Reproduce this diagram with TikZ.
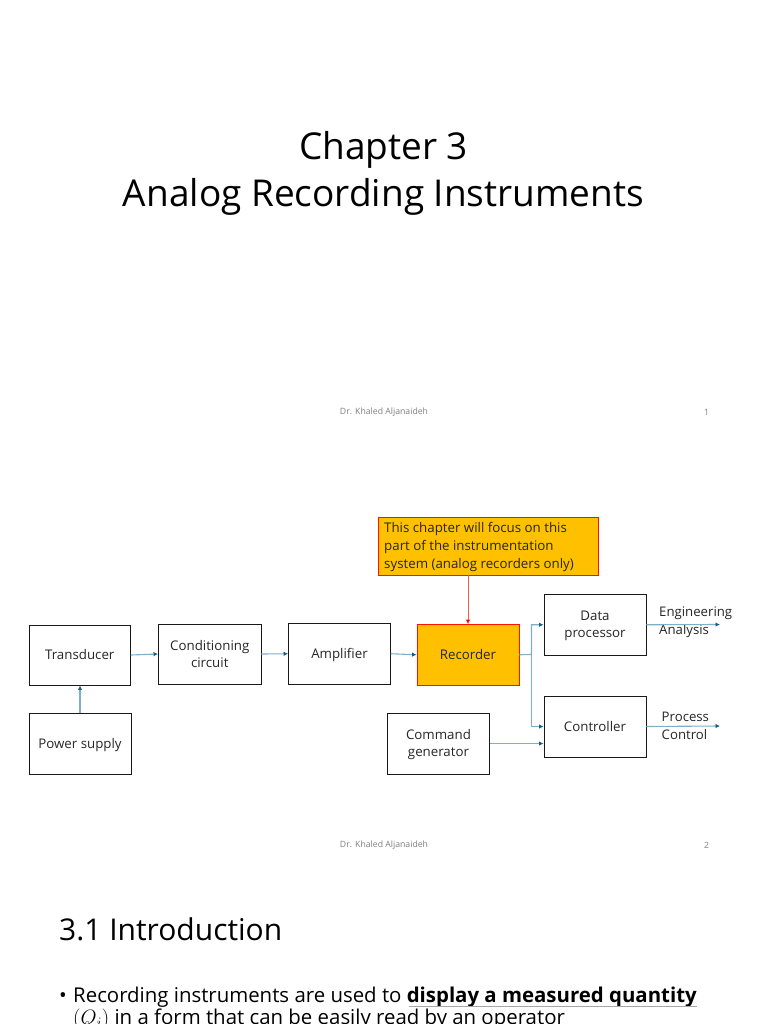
\documentclass[tikz,border=0pt]{standalone}
\usepackage{fontspec}
\setmainfont{Open Sans}
\usetikzlibrary{arrows.meta}
\tikzset{
  blockbox/.style={draw=black!90,line width=0.9pt,fill=white,align=center,font=\fontsize{13.3}{17.3}\selectfont,text=black!85,inner sep=0pt},
  hotbox/.style={blockbox,draw=red!85!orange,fill=amber,text=black!85},
  flow/.style={draw=flowblue,line width=1.1pt,-{Latex[length=4.5pt,width=4.5pt,color=arrowblue]}},
  redflow/.style={draw=red!65,line width=0.9pt,-{Latex[length=4.5pt,width=4.5pt,color=red]}},
  footer/.style={font=\fontsize{8.7}{11}\selectfont,text=black!50,inner sep=0pt},
  lbl/.style={font=\fontsize{13.2}{17.8}\selectfont,text=black!85,align=left,inner sep=0pt,anchor=west},
  titletext/.style={font=\fontsize{37}{47}\selectfont,align=center,inner sep=0pt,text=black},
  bodytext/.style={font=\fontsize{20.4}{22}\selectfont,inner sep=0pt,anchor=base west,text=black},
}
\definecolor{amber}{HTML}{FFC000}
\definecolor{flowblue}{HTML}{7FAFC8}
\definecolor{arrowblue}{HTML}{156082}
\newcommand{\bx}[6]{\node[#1,minimum width=#5pt-#3pt,minimum height=#6pt-#4pt] (#2) at ({(#3+#5)/2},{(#4+#6)/2})}
\newcommand{\capfix}{\rule{0pt}{13pt}}
\begin{document}
\begin{tikzpicture}[x=1pt,y=-1pt]
\clip (0,0) rectangle (768,1024);
\useasboundingbox (0,0) rectangle (768,1024);
\fill[white] (0,0) rectangle (768,1024);
\node[titletext] (title) at (383.5,173.5) {Chapter 3\\Analog Recording Instruments};
\node[footer] (f1) at (384,412.5) {Dr. Khaled Aljanaideh};
\node[footer] (n1) at (706.5,412.5) {1};
\node[footer] (f2) at (384,845.5) {Dr. Khaled Aljanaideh};
\node[footer] (n2) at (706.5,845.5) {2};

\bx{hotbox}{note}{378.5}{517.5}{598}{575}{};
\node[font=\fontsize{13.3}{17.6}\selectfont,text=black!85,align=left,inner sep=0pt,anchor=west] (notetext) at (384,547) {This chapter will focus on this\\part of the instrumentation\\system (analog recorders only)};
\bx{blockbox}{trans}{29}{625}{130.5}{685}{Transducer};
\bx{blockbox}{cond}{158.5}{624}{261}{684}{Conditioning\\circuit};
\bx{blockbox}{amp}{288.5}{623.5}{390.5}{684}{\capfix Amplifier};
\bx{hotbox}{rec}{417}{624.5}{519}{685}{Recorder};
\bx{blockbox}{dp}{544}{594.5}{646}{655}{\strut Data\\processor};
\bx{blockbox}{ctrl}{544}{696}{646}{757}{Controller};
\bx{blockbox}{cmd}{387.5}{713}{489.5}{774}{\strut Command\\generator};
\bx{blockbox}{pow}{29}{713}{131}{774}{\capfix Power supply};

\coordinate (j) at (531.5,654.5);
\coordinate (eaend) at (720,624.5);
\coordinate (pcend) at (720,726);
\node[lbl] (ea) at (659,622.5) {Engineering\\Analysis};
\node[lbl] (pc) at (661.5,726) {Process\\Control};

\draw[flow] (trans.east) -- (cond.west);
\draw[flow] (cond.east) -- (amp.west);
\draw[flow] (amp.east) -- (rec.west);
\draw[flow] (pow.north) -- (pow.north |- trans.south);
\draw[redflow] (note.south -| rec.north) -- (rec.north);
\draw[flow] (rec.east) -- (j) |- (dp.west);
\draw[flow] (j) |- (ctrl.west);
\draw[flow] (cmd.east) -- (cmd.east -| ctrl.west);
\draw[flow] (dp.east) -- (eaend);
\draw[flow] (ctrl.east) -- (pcend);

\node[inner sep=0pt,anchor=base west,font=\fontsize{30}{36}\selectfont,text=black] (h) at (59,940) {3.1 Introduction};
\node[bodytext] (bul) at (59,1002) {•};
\node[bodytext] (l1) at (73,1002) {Recording instruments are used to \textbf{display a measured quantity}};
\draw[black!35,line width=1pt] (409,1006) coordinate (ua) -- (697,1006) coordinate (ub);
\node[bodytext] (l2) at (73,1024) {$(Q_i)$ in a form that can be easily read by an operator};
\end{tikzpicture}
\end{document}
